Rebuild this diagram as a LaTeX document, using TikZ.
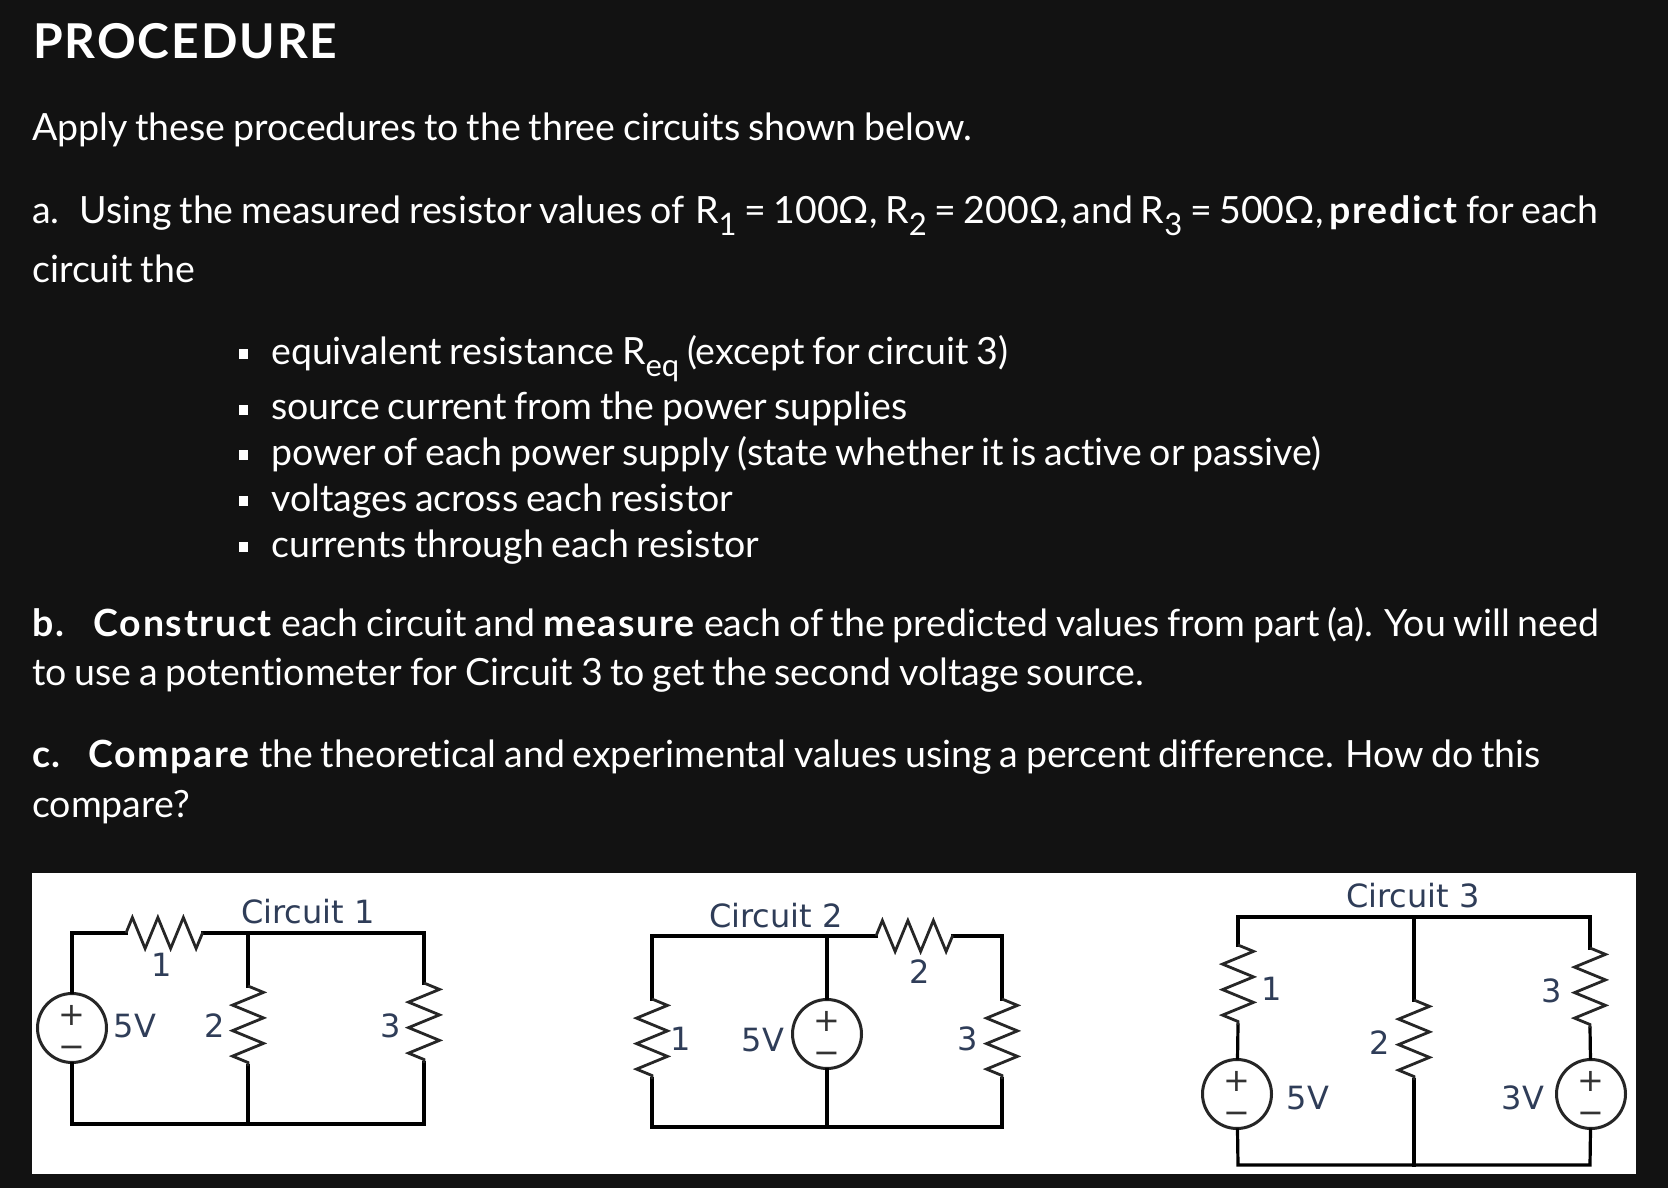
\documentclass[tikz,border=0pt]{standalone}
\usepackage{fontspec}
\setmainfont{Lato}[WordSpace=0.8, Ligatures=NoCommon, BoldFeatures={LetterSpace=4.5}]
\newfontfamily\headfont{Lato}[LetterSpace=4]
\newfontfamily\labfont{DejaVu Sans}
\usetikzlibrary{decorations.pathmorphing}
\definecolor{backcol}{HTML}{121212}
\definecolor{labcol}{HTML}{2F3D58}
\definecolor{signcol}{HTML}{333333}
\newcommand{\subs}[1]{\raisebox{-0.33em}{\fontsize{31}{31}\selectfont #1}}
\tikzstyle{head} = [anchor=base west, inner sep=0pt, text=white, font=\headfont\fontsize{48}{48}\selectfont\bfseries]
\tikzstyle{para} = [anchor=base west, inner sep=0pt, text=white, font=\fontsize{37.5}{37.5}\selectfont]
\tikzstyle{bullet} = [rectangle, fill=white, inner sep=0pt, minimum width=9pt, minimum height=10pt]
\tikzstyle{wire} = [line width=3.2pt, line cap=rect, draw=black]
\tikzstyle{res} = [line width=2.8pt, draw=black!85, line join=miter, decorate, decoration={zigzag, segment length=25.5pt, amplitude=15.5pt}]
\tikzstyle{source} = [circle, minimum size=69pt, inner sep=0pt, line width=3pt, draw=black!85, fill=white]
\tikzstyle{lab} = [anchor=base, inner sep=0pt, text=labcol, font=\labfont\fontsize{32}{32}\selectfont]
\tikzstyle{sign} = [inner sep=0pt, text=signcol, font=\labfont\fontsize{32}{32}\selectfont]

\begin{document}
\begin{tikzpicture}[x=1pt, y=-1pt]
		\useasboundingbox (0,0) rectangle (1668,1188);
		\fill [backcol] (0,0) rectangle (1668,1188);

		\node (proc) [head] at (33,59) {PROCEDURE};
		\node (intro) [para] at (32,141) {Apply these procedures to the three circuits shown below.};
		\node (parta) [para] at (32,223) {a.\hspace{9pt} Using the measured resistor values of\hspace{3pt} R\subs{1} = 100Ω, R\subs{2} = 200Ω, \hspace{-3pt}and R\subs{3} = 500Ω, \hspace{-2pt}\textbf{predict} for each};
		\node (partb) [para] at (32,282) {circuit the};

		\node (b1) [bullet] at (243,354) {};
		\node (b2) [bullet] at (243,410) {};
		\node (b3) [bullet] at (243,455) {};
		\node (b4) [bullet] at (243,501) {};
		\node (b5) [bullet] at (243,547) {};
		\node (t1) [para] at (271,364) {equivalent resistance R\subs{eq} (except for circuit 3)};
		\node (t2) [para] at (271,419) {source current from the power supplies};
		\node (t3) [para] at (271,465) {power of each power supply (state whether it is active or passive)};
		\node (t4) [para] at (271,511) {voltages across each resistor};
		\node (t5) [para] at (271,557) {currents through each resistor};

		\node (con) [para] at (32,636) {\textbf{b.}\hspace{17pt} \textbf{Construct} each circuit and \textbf{measure} each of the predicted values from part (a). You will need};
		\node (conb) [para] at (32,685) {to use a potentiometer for Circuit 3 to get the second voltage source.};
		\node (cmp) [para] at (32,767) {\textbf{c.}\hspace{15pt} \textbf{Compare} the theoretical and experimental values using a percent difference. How do this};
		\node (cmpb) [para] at (32,817) {compare?};

		\fill [white] (32,873) rectangle (1636,1174);

		\coordinate (atl) at (72,933);
		\coordinate (abl) at (72,1124);
		\coordinate (atm) at (248,933);
		\coordinate (abm) at (248,1124);
		\coordinate (atr) at (424,933);
		\coordinate (abr) at (424,1124);
		\coordinate (ar1a) at (126,933);
		\coordinate (ar1b) at (203,933);
		\coordinate (ar2a) at (248,986);
		\coordinate (ar2b) at (248,1066);
		\coordinate (ar3a) at (424,983);
		\coordinate (ar3b) at (424,1063);
		\node (as) [source] at (72,1028) {};
		\draw [wire] (as) -- (atl) -- (ar1a);
		\draw [wire] (as) -- (abl) -- (abr) -- (ar3b);
		\draw [wire] (ar1b) -- (atr) -- (ar3a);
		\draw [wire] (atm) -- (ar2a);
		\draw [wire] (ar2b) -- (abm);
		\draw [res] (ar1a) -- (ar1b);
		\draw [res] (ar2a) -- (ar2b);
		\draw [res] (ar3a) -- (ar3b);
		\node (asp) [sign] at (72,1015) {+};
		\node (asm) [sign] at (72,1052) {−};
		\node (at) [lab] at (308,923) {Circuit 1};
		\node (al1) [lab] at (162,976) {1};
		\node (alv) [lab] at (135,1037) {5V};
		\node (al2) [lab] at (215,1037) {2};
		\node (al3) [lab] at (391,1037) {3};

		\coordinate (btl) at (652,936);
		\coordinate (bbl) at (652,1127);
		\coordinate (btm) at (827,936);
		\coordinate (bbm) at (827,1127);
		\coordinate (btr) at (1002,936);
		\coordinate (bbr) at (1002,1127);
		\coordinate (br1a) at (652,999);
		\coordinate (br1b) at (652,1079);
		\coordinate (br2a) at (876,936);
		\coordinate (br2b) at (953,936);
		\coordinate (br3a) at (1002,999);
		\coordinate (br3b) at (1002,1079);
		\node (bs) [source] at (827,1034) {};
		\draw [wire] (br1a) -- (btl) -- (br2a);
		\draw [wire] (br2b) -- (btr) -- (br3a);
		\draw [wire] (br1b) -- (bbl) -- (bbr) -- (br3b);
		\draw [wire] (bs) -- (btm);
		\draw [wire] (bs) -- (bbm);
		\draw [res] (br1a) -- (br1b);
		\draw [res] (br2a) -- (br2b);
		\draw [res] (br3a) -- (br3b);
		\node (bsp) [sign] at (827,1021) {+};
		\node (bsm) [sign] at (827,1058) {−};
		\node (bt) [lab] at (776,927) {Circuit 2};
		\node (bl1) [lab] at (681,1050) {1};
		\node (blv) [lab] at (763,1051) {5V};
		\node (bl2) [lab] at (920,983) {2};
		\node (bl3) [lab] at (968,1050) {3};

		\coordinate (ctl) at (1238,917);
		\coordinate (cbl) at (1238,1165);
		\coordinate (ctm) at (1414,917);
		\coordinate (cbm) at (1414,1165);
		\coordinate (ctr) at (1590,917);
		\coordinate (cbr) at (1590,1165);
		\coordinate (cr1a) at (1238,945);
		\coordinate (cr1b) at (1238,1025);
		\coordinate (cr2a) at (1414,1000);
		\coordinate (cr2b) at (1414,1080);
		\coordinate (cr3a) at (1590,948);
		\coordinate (cr3b) at (1590,1028);
		\node (cs) [source] at (1237,1094) {};
		\node (ds) [source] at (1591,1094) {};
		\draw [wire] (cr1a) -- (ctl) -- (ctr) -- (cr3a);
		\draw [wire] (cr1b) -- (cs);
		\draw [wire] (cs) -- (cbl) -- (cbr) -- (ds);
		\draw [wire] (cr3b) -- (ds);
		\draw [wire] (ctm) -- (cr2a);
		\draw [wire] (cr2b) -- (cbm);
		\draw [res] (cr1a) -- (cr1b);
		\draw [res] (cr2a) -- (cr2b);
		\draw [res] (cr3a) -- (cr3b);
		\node (csp) [sign] at (1237,1081) {+};
		\node (csm) [sign] at (1237,1118) {−};
		\node (dsp) [sign] at (1591,1081) {+};
		\node (dsm) [sign] at (1591,1118) {−};
		\node (ct) [lab] at (1413,907) {Circuit 3};
		\node (cl1) [lab] at (1272,1000) {1};
		\node (cl2) [lab] at (1380,1054) {2};
		\node (cl3) [lab] at (1552,1002) {3};
		\node (clv) [lab] at (1308,1109) {5V};
		\node (dlv) [lab] at (1523,1109) {3V};
	  \end{tikzpicture}
\end{document}
